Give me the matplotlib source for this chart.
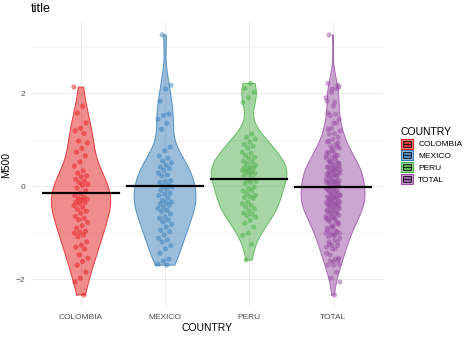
import numpy as np
import matplotlib
matplotlib.use("Agg")
import matplotlib.pyplot as plt
from matplotlib.patches import Patch, Rectangle
from matplotlib.lines import Line2D
from matplotlib.legend_handler import HandlerBase

plt.rcParams['font.family'] = ['Liberation Sans', 'DejaVu Sans']

# values
countries = ['COLOMBIA', 'MEXICO', 'PERU', 'TOTAL']
colors = ['#E41A1C', '#377EB8', '#4DAF4A', '#984EA3']

colombia = [2.13, 1.72, 1.57,
            1.36, 1.24, 1.19, 1.13,
            0.97, 0.93, 0.81, 0.73, 0.65, 0.52,
            0.43, 0.33, 0.28, 0.22, 0.20, 0.15, 0.11, 0.08, 0.04, 0.02,
            -0.04, -0.10, -0.15, -0.20, -0.24, -0.26, -0.28, -0.30, -0.34, -0.36,
            -0.38, -0.42, -0.46, -0.50,
            -0.54, -0.58, -0.65, -0.69, -0.72, -0.78, -0.85, -0.90, -0.97, -0.99,
            -1.01, -1.05, -1.09, -1.20, -1.27, -1.31, -1.35, -1.48,
            -1.55, -1.62, -1.70, -1.85, -1.98,
            -2.06, -2.34]
mexico = [3.25,
          2.17, 2.09,
          1.83, 1.55, 1.52,
          1.44, 1.35, 1.22,
          0.84, 0.76, 0.65, 0.60, 0.54, 0.50,
          0.45, 0.41, 0.38, 0.34, 0.28, 0.24, 0.22, 0.12, 0.10, 0.08, 0.02,
          0.00, -0.02, -0.06, -0.09, -0.15, -0.17, -0.20, -0.25, -0.30, -0.34,
          -0.35, -0.38, -0.41, -0.45, -0.48,
          -0.52, -0.55, -0.60, -0.66, -0.69, -0.73, -0.77, -0.82, -0.88, -0.95, -0.98,
          -1.05, -1.12, -1.16, -1.20, -1.28, -1.35, -1.44,
          -1.57, -1.61, -1.68, -1.70]
peru = [2.21, 2.10, 2.02, 1.90, 1.80,
        1.12, 1.05, 1.01,
        0.95, 0.90, 0.86, 0.82, 0.73, 0.71, 0.66, 0.62, 0.60, 0.54, 0.52,
        0.49, 0.45, 0.41, 0.40, 0.39, 0.35, 0.34, 0.30, 0.30, 0.28, 0.25, 0.22,
        0.17, 0.12, 0.10, 0.08, 0.05,
        -0.02, -0.05, -0.10, -0.10, -0.15, -0.20, -0.22, -0.24, -0.26, -0.34,
        -0.38, -0.41, -0.45, -0.49,
        -0.53, -0.58, -0.60, -0.63, -0.67, -0.73, -0.80, -0.88,
        -1.01, -1.06, -1.25, -1.59]
center_line = [-0.15, 0.00, 0.15, -0.02]

groups = [np.array(colombia), np.array(mexico), np.array(peru)]
groups.append(np.concatenate(groups))


def bw_nrd0(x):
    sd = np.std(x, ddof=1)
    iqr = np.subtract(*np.percentile(x, [75, 25])) / 1.34
    return 0.9 * min(sd, iqr) * len(x) ** -0.2


def kde(x, adjust=1.0):
    grid = np.linspace(x.min(), x.max(), 512)
    h = bw_nrd0(x) * adjust
    d = np.exp(-0.5 * ((grid[:, None] - x[None, :]) / h) ** 2).sum(1)
    d = d / (len(x) * h * np.sqrt(2 * np.pi))
    return grid, d


class KeyHandler(HandlerBase):
    def create_artists(self, legend, orig, xd, yd, w, h, fs, trans):
        c = orig.get_facecolor()
        outer = Rectangle((-xd, -yd), w, h, facecolor=(*c[:3], 0.5),
                          edgecolor=c[:3], lw=0.8, transform=trans)
        inner = Rectangle((-xd + 0.15 * w, -yd + 0.2 * h), 0.7 * w, 0.6 * h,
                          facecolor=(*c[:3], 0.7), edgecolor=(0, 0, 0, 0.75),
                          lw=0.8, transform=trans)
        mid = Line2D([-xd + 0.15 * w, -xd + 0.85 * w], [-yd + h / 2] * 2,
                     color=(0, 0, 0, 0.8), lw=0.8, transform=trans)
        return [outer, inner, mid]


fig = plt.figure(figsize=(4.74, 3.38), dpi=100)
ax = fig.add_axes([0.0646, 0.0888, 0.7444, 0.8462])

dens = [kde(g) for g in groups]
dmax = max(d.max() for _, d in dens)
pos = np.arange(1, len(countries) + 1)

for i, (g, (grid, d)) in enumerate(zip(groups, dens)):
    half = d / dmax * 0.45
    ax.fill_betweenx(grid, pos[i] - half, pos[i] + half,
                     facecolor=colors[i], alpha=0.5, edgecolor='none', zorder=2)
    ax.plot(np.r_[pos[i] - half, (pos[i] + half)[::-1], pos[i] - half[0]],
            np.r_[grid, grid[::-1], grid[0]], color=colors[i], lw=0.7,
            alpha=0.8, zorder=3)
    k = np.arange(len(g))
    jit = ((k * 0.618034 + 0.3 * i) % 1 - 0.5) * 0.17
    ax.scatter(pos[i] + jit, g, s=14, color=colors[i], alpha=0.5,
               edgecolors='none', zorder=4)
    ax.plot([pos[i] - 0.45, pos[i] + 0.45], [center_line[i]] * 2,
            color='black', lw=1.6, zorder=5)

lo = min(g.min() for g in groups)
hi = max(g.max() for g in groups)
pad = (hi - lo) * 0.05
ax.set_ylim(lo - pad, hi + pad)
ax.set_xlim(0.4, 4.6)

ax.set_xticks(pos)
ax.set_xticklabels(countries)
ax.set_yticks([-2, 0, 2])
ax.set_yticks([-1, 1, 3], minor=True)
ax.grid(True, which='major', color='#EBEBEB', lw=0.7)
ax.grid(True, which='minor', axis='y', color='#F2F2F2', lw=0.5)
ax.set_axisbelow(True)
for s in ax.spines.values():
    s.set_visible(False)
ax.tick_params(which='both', length=0, labelsize=6, labelcolor='#4D4D4D', pad=4)

ax.set_xlabel('COUNTRY', fontsize=7.5, labelpad=2)
ax.set_ylabel('M500', fontsize=7.5, labelpad=3)
ax.set_title('title', fontsize=9, loc='left', pad=7)

handles = [Patch(facecolor=c) for c in colors]
fig.legend(handles, countries, loc='upper left',
           bbox_to_anchor=(395 / 474, 1 - 121 / 338), frameon=False,
           title='COUNTRY', title_fontsize=7.5, fontsize=6, alignment='left',
           handlelength=1.5, handleheight=1.5, labelspacing=0.2,
           handletextpad=0.6, borderpad=0.2,
           handler_map={Patch: KeyHandler()})

fig.savefig('out.png', dpi=100)
